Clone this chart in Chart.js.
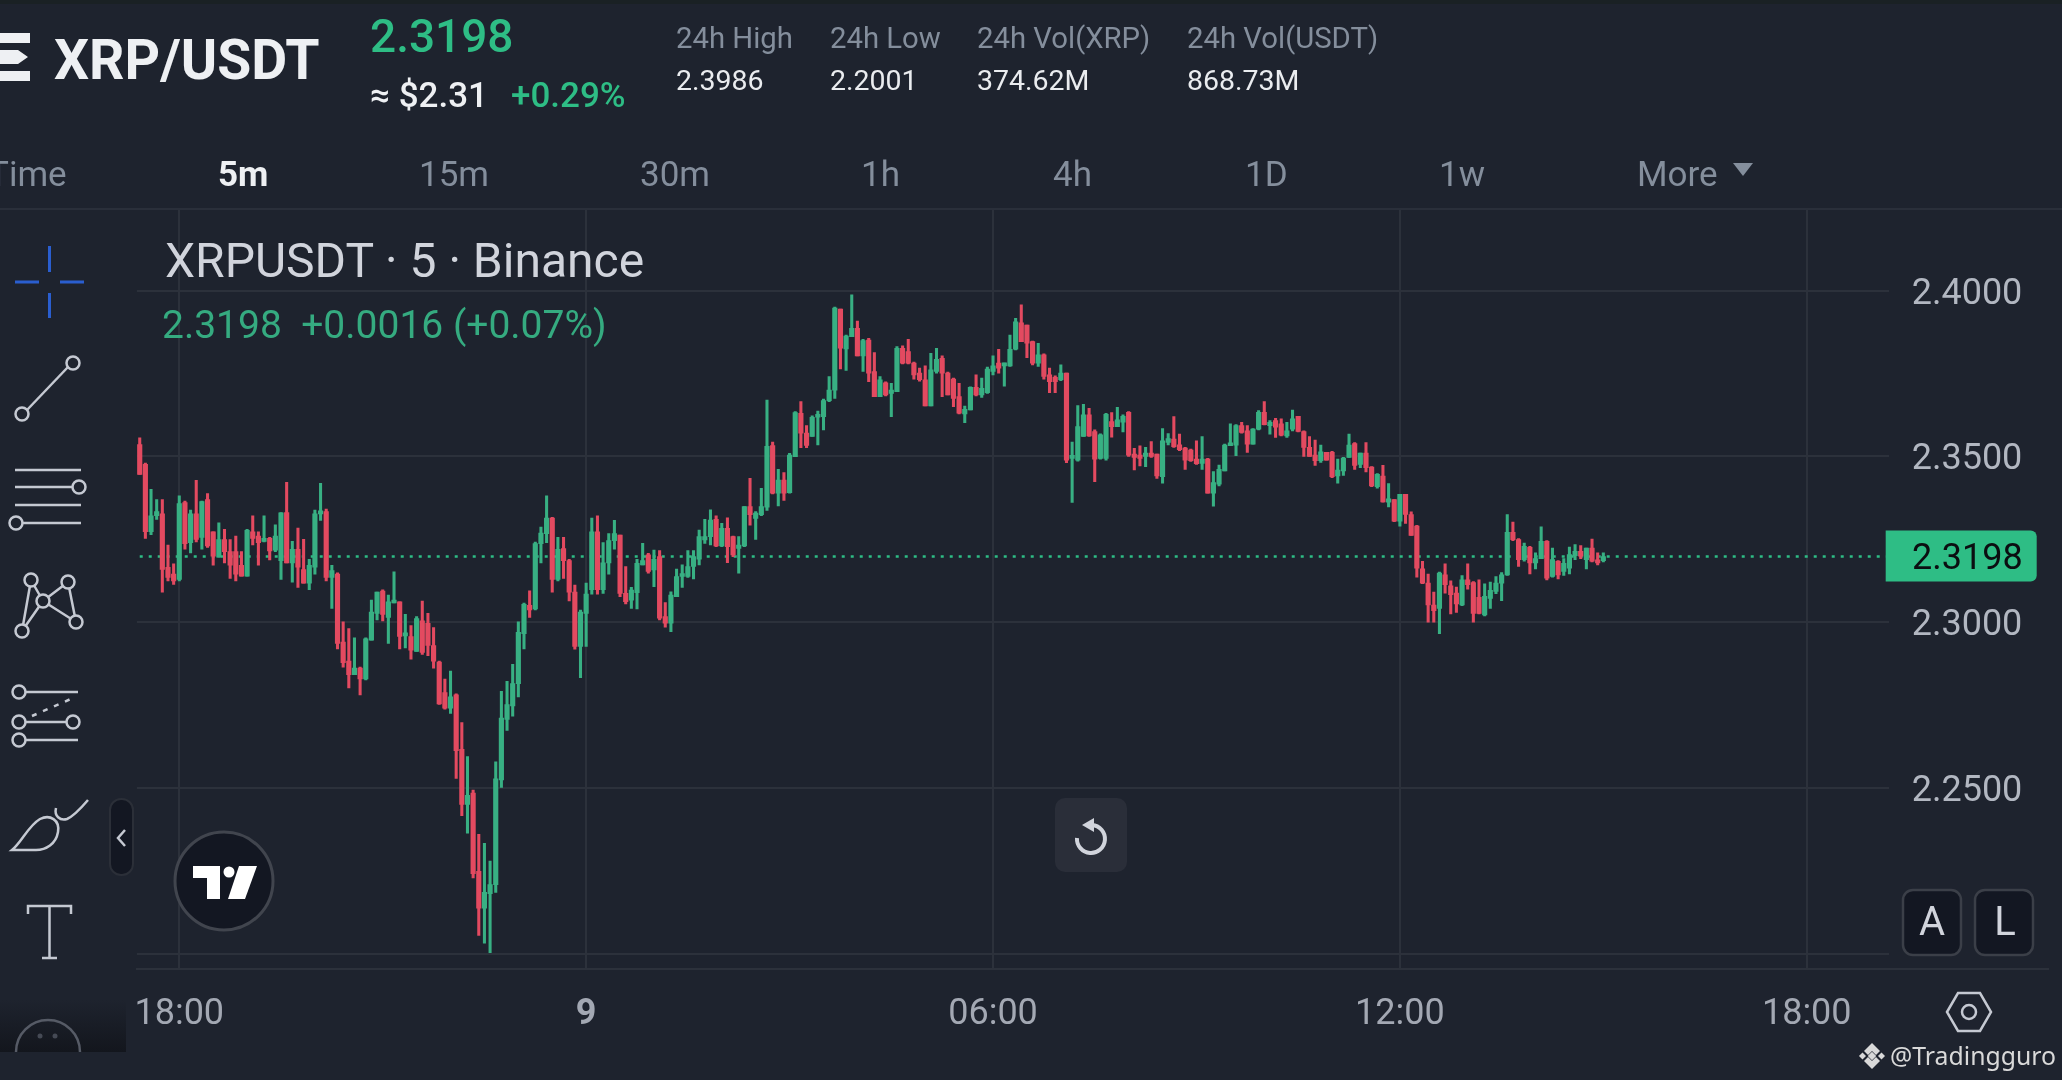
<!DOCTYPE html>
<html>
<head>
<meta charset="utf-8">
<script src="https://cdn.jsdelivr.net/npm/chart.js@4/dist/chart.umd.min.js"></script>
<style>
html, body { margin: 0; padding: 0; background: #1e232e; }
#page { position: relative; width: 2062px; height: 1080px; overflow: hidden; background: #1e232e; font-family: Roboto, sans-serif; }
#chart { position: absolute; left: 0; top: 0; }
#icons { position: absolute; left: 0; top: 0; }
.t { position: absolute; white-space: nowrap; line-height: 1; }
.dim { color: #848e9c; }
.val { color: #eaecef; }
.up { color: #2ebd85; }
</style>
</head>
<body>
<div id="page">
  <canvas id="chart" width="2062" height="1080"></canvas>

  <svg id="icons" width="2062" height="1080" fill="none" stroke="#c5c9d2" stroke-width="2.5">
    <defs>
      <linearGradient id="fade" x1="0" y1="0" x2="0" y2="1">
        <stop offset="0" stop-color="#1e232e"/>
        <stop offset="1" stop-color="#13161d"/>
      </linearGradient>
    </defs>
    <!-- top strip and rules -->
    <rect x="0" y="0" width="2062" height="4" fill="#1a2124" stroke="none"/>
    <line x1="0" y1="209" x2="2062" y2="209" stroke="#2a2f3a" stroke-width="2"/>
    <line x1="1890" y1="969" x2="2049" y2="969" stroke="#2c313b" stroke-width="2"/>

    <!-- exchange logo, cut by the left edge -->
    <path d="M0 33H30V43H0ZM0 71H30V81H0ZM0 50H18L28 57L18 64H0Z" fill="#eef0f3" stroke="none"/>

    <!-- crosshair -->
    <g stroke="#2a5ecf" stroke-width="3">
      <path d="M15 282H39M60 282H84M49.5 246V272M49.5 293V318"/>
    </g>
    <!-- trend line -->
    <circle cx="22" cy="414" r="6.5"/><circle cx="73" cy="363" r="6.5"/>
    <line x1="27" y1="410" x2="68" y2="367"/>
    <!-- parallel lines -->
    <path d="M15 470H81M15 487H73M15 505H81M23 523H81"/>
    <circle cx="79" cy="487" r="6.5"/><circle cx="16" cy="523" r="6.5"/>
    <!-- pattern -->
    <path d="M31 580L22 631M31 580L43 601M43 601L68 582M68 582L76 622M22 631L43 601M43 601L76 622"/>
    <g fill="#1e232e">
      <circle cx="31" cy="580" r="6.5"/><circle cx="68" cy="582" r="6.5"/><circle cx="43" cy="601" r="6.5"/>
      <circle cx="22" cy="631" r="6.5"/><circle cx="76" cy="622" r="6.5"/>
    </g>
    <!-- forecast -->
    <path d="M25 692H78M25 722H67M25 740H78"/>
    <path d="M32 716L73 698" stroke-dasharray="5 7"/>
    <circle cx="19" cy="692" r="6.5"/><circle cx="19" cy="722" r="6.5"/><circle cx="73" cy="722" r="6.5"/><circle cx="19" cy="740" r="6.5"/>
    <!-- brush -->
    <path d="M12 850C22 842 28 826 40 819C50 814 60 820 58 832C56 844 46 850 36 850Z"/>
    <path d="M56 808C54 816 60 821 67 819C74 816 82 807 88 800"/>
    <!-- text tool -->
    <path d="M28 914V906H71V914M49.5 906V958M42 958H57"/>
    <!-- more, faded into a dark panel -->
    <rect x="0" y="1000" width="126" height="52" fill="url(#fade)" stroke="none"/>
    <path d="M16 1052A32 32 0 0 1 80 1052" stroke="#565b66"/>
    <circle cx="40" cy="1036" r="2.5" fill="#454a55" stroke="none"/><circle cx="55" cy="1036" r="2.5" fill="#454a55" stroke="none"/>

    <!-- collapse pill -->
    <rect x="110" y="799" width="23" height="76" rx="11" fill="#131722" stroke="#2b2f38" stroke-width="2"/>
    <path d="M125 830L118 838L125 846" stroke="#c5c9d2"/>

    <!-- TradingView badge -->
    <circle cx="224" cy="881" r="49" fill="#131722" stroke="#41454e" stroke-width="3"/>
    <path d="M193 866H220V899H207V878H193Z" fill="#fff" stroke="none"/>
    <circle cx="229" cy="872" r="5.5" fill="#fff" stroke="none"/>
    <path d="M239 866H257L245 899H228Z" fill="#fff" stroke="none"/>

    <!-- reset -->
    <rect x="1055" y="798" width="72" height="74" rx="10" fill="#2a2e39" stroke="none"/>
    <path d="M1092 825A14 14 0 1 1 1077 838" stroke="#d1d4dc" stroke-width="4"/>
    <path d="M1094 818V832L1082 825Z" fill="#d1d4dc" stroke="none"/>

    <!-- scale buttons -->
    <rect x="1903" y="890" width="58" height="65" rx="10" fill="#131722" stroke="#3b3f48"/>
    <rect x="1975" y="890" width="58" height="65" rx="10" fill="#131722" stroke="#3b3f48"/>

    <!-- settings hexagon -->
    <path d="M1947 1012L1958 993H1980L1991 1012L1980 1031H1958Z" stroke="#c5c9d2"/>
    <circle cx="1969" cy="1012" r="7"/>

    <!-- watermark logo -->
    <g fill="#d9d9d9" stroke="none">
      <path d="M1872 1043L1880 1051L1876 1055L1872 1051L1868 1055L1864 1051Z"/>
      <path d="M1872 1069L1864 1061L1868 1057L1872 1061L1876 1057L1880 1061Z"/>
      <rect x="1869" y="1053" width="6" height="6" transform="rotate(45 1872 1056)"/>
      <rect x="1860" y="1053.500" width="5" height="5" transform="rotate(45 1862.500 1056)"/>
      <rect x="1879" y="1053.500" width="5" height="5" transform="rotate(45 1881.500 1056)"/>
    </g>
  </svg>

  <div class="t" style="left:54px;top:33px;font-size:55.300px;font-weight:700;color:#eef0f3">XRP/USDT</div>
  <div class="t up" style="left:370px;top:13px;font-size:46px;font-weight:500">2.3198</div>
  <div class="t" style="left:370px;top:78px;font-size:35px;font-weight:500;color:#eef0f3">≈ $2.31</div>
  <div class="t up" style="left:511px;top:78px;font-size:35px;font-weight:500">+0.29%</div>

  <div class="t dim" style="left:676px;top:24px;font-size:29.300px">24h High</div>
  <div class="t val" style="left:676px;top:67px;font-size:28.500px">2.3986</div>
  <div class="t dim" style="left:830px;top:24px;font-size:29.300px">24h Low</div>
  <div class="t val" style="left:830px;top:67px;font-size:28.500px">2.2001</div>
  <div class="t dim" style="left:977px;top:24px;font-size:29.300px">24h Vol(XRP)</div>
  <div class="t val" style="left:977px;top:67px;font-size:28.500px">374.62M</div>
  <div class="t dim" style="left:1187px;top:24px;font-size:29.300px">24h Vol(USDT)</div>
  <div class="t val" style="left:1187px;top:67px;font-size:28.500px">868.73M</div>

  <div class="t dim" style="left:-12px;top:157px;font-size:35px">Time</div>
  <div class="t" style="left:218px;top:157px;font-size:35px;font-weight:700;color:#eef0f3">5m</div>
  <div class="t dim" style="left:419px;top:157px;font-size:35px">15m</div>
  <div class="t dim" style="left:640px;top:157px;font-size:35px">30m</div>
  <div class="t dim" style="left:861px;top:157px;font-size:35px">1h</div>
  <div class="t dim" style="left:1053px;top:157px;font-size:35px">4h</div>
  <div class="t dim" style="left:1245px;top:157px;font-size:35px">1D</div>
  <div class="t dim" style="left:1439px;top:157px;font-size:35px">1w</div>
  <div class="t dim" style="left:1637px;top:157px;font-size:35px">More</div>
  <svg style="position:absolute;left:1733px;top:163px" width="20" height="14"><path d="M0 0H20L10 13Z" fill="#848e9c"/></svg>

  <div class="t" style="left:165px;top:237px;font-size:48px;color:#d1d4dc">XRPUSDT · 5 · Binance</div>
  <div class="t" style="left:162px;top:306px;font-size:39px;color:#35ab80;white-space:pre">2.3198  +0.0016 (+0.07%)</div>

  <div class="t" style="left:1909px;top:902px;font-size:40px;color:#d1d4dc;width:46px;text-align:center">A</div>
  <div class="t" style="left:1982px;top:902px;font-size:40px;color:#d1d4dc;width:46px;text-align:center">L</div>
  <div class="t" style="left:1890px;top:1043px;font-size:24.800px;font-family:'Noto Sans',sans-serif;color:#d9d9d9">@Tradingguro</div>
</div>

<script>
// 5 minute candles
const opens = [
  2.3536,2.3476,2.3273,2.3321,2.3327,2.3166,2.3145,2.3129,2.3361,2.3240,
  2.3327,2.3256,2.3370,2.3273,2.3196,2.3249,2.3213,2.3213,2.3172,2.3139,
  2.3273,2.3260,2.3244,2.3253,2.3217,2.3186,2.3331,2.3179,2.3220,2.3159,
  2.3118,2.3166,2.3327,2.3334,2.3135,2.3145,2.2940,2.2883,2.2842,2.2862,
  2.2829,2.2946,2.3027,2.3094,2.3015,2.3058,2.3062,2.2959,2.2957,2.2912,
  2.3004,2.2997,2.2930,2.2880,2.2788,2.2741,2.2781,2.2617,2.2451,2.2485,
  2.2249,2.2138,2.2182,2.2209,2.2525,2.2707,2.2748,2.2815,2.2966,2.3051,
  2.3040,2.3237,2.3267,2.3314,2.3129,2.3222,2.3186,2.3091,2.2927,2.3027,
  2.3098,2.3273,2.3098,2.3179,2.3246,2.3263,2.3087,2.3067,2.3089,2.3173,
  2.3203,2.3158,2.3198,2.3017,2.2997,2.3077,2.3138,2.3138,2.3168,2.3190,
  2.3248,2.3258,2.3310,2.3230,2.3283,2.3258,2.3223,2.3230,2.3349,2.3313,
  2.3324,2.3347,2.3533,2.3389,2.3429,2.3391,2.3499,2.3630,2.3570,2.3560,
  2.3618,2.3620,2.3668,2.3700,2.3944,2.3824,2.3861,2.3886,2.3803,2.3851,
  2.3756,2.3680,2.3722,2.3690,2.3695,2.3826,2.3816,2.3781,2.3751,2.3731,
  2.3652,2.3756,2.3796,2.3751,2.3733,2.3680,2.3628,2.3640,2.3708,2.3685,
  2.3692,2.3756,2.3781,2.3773,2.3773,2.3823,2.3903,2.3896,2.3846,2.3781,
  2.3806,2.3746,2.3738,2.3731,2.3751,2.3494,2.3489,2.3560,2.3625,2.3575,
  2.3494,2.3494,2.3605,2.3590,2.3603,2.3633,2.3507,2.3504,2.3500,2.3510,
  2.3507,2.3439,2.3542,2.3552,2.3535,2.3525,2.3519,2.3492,2.3479,2.3492,
  2.3389,2.3416,2.3456,2.3532,2.3534,2.3593,2.3577,2.3537,2.3582,2.3633,
  2.3593,2.3608,2.3598,2.3562,2.3582,2.3621,2.3575,2.3527,2.3504,2.3487,
  2.3512,2.3512,2.3441,2.3456,2.3497,2.3539,2.3476,2.3510,2.3468,2.3409,
  2.3441,2.3362,2.3370,2.3305,2.3386,2.3325,2.3290,2.3161,2.3118,2.3052,
  2.3042,2.3143,2.3110,2.3088,2.3052,2.3128,2.3120,2.3075,2.3022,2.3072,
  2.3093,2.3118,2.3143,2.3271,2.3249,2.3189,2.3226,2.3179,2.3192,2.3244,
  2.3138,2.3184,2.3153,2.3163,2.3201,2.3214,2.3189,2.3224,2.3186,2.3186
];
const closes = [
  2.3446,2.3273,2.3321,2.3334,2.3159,2.3135,2.3125,2.3358,2.3237,2.3327,
  2.3250,2.3364,2.3230,2.3199,2.3249,2.3213,2.3172,2.3145,2.3139,2.3277,
  2.3253,2.3240,2.3253,2.3215,2.3260,2.3330,2.3179,2.3220,2.3166,2.3118,
  2.3172,2.3327,2.3334,2.3135,2.3156,2.2936,2.2878,2.2842,2.2862,2.2829,
  2.2950,2.3031,2.3091,2.3024,2.3062,2.3067,2.2957,2.2966,2.2916,2.3011,
  2.2909,2.2930,2.2883,2.2754,2.2741,2.2775,2.2613,2.2451,2.2478,2.2242,
  2.2138,2.2186,2.2209,2.2528,2.2711,2.2752,2.2815,2.2970,2.3054,2.3037,
  2.3237,2.3269,2.3314,2.3129,2.3220,2.3186,2.3091,2.2927,2.3031,2.3085,
  2.3273,2.3098,2.3179,2.3246,2.3267,2.3087,2.3062,2.3097,2.3178,2.3186,
  2.3153,2.3190,2.3012,2.2997,2.3082,2.3138,2.3143,2.3168,2.3198,2.3258,
  2.3258,2.3308,2.3230,2.3283,2.3228,2.3203,2.3233,2.3349,2.3324,2.3329,
  2.3349,2.3530,2.3389,2.3429,2.3389,2.3504,2.3632,2.3570,2.3533,2.3618,
  2.3622,2.3668,2.3700,2.3947,2.3826,2.3863,2.3886,2.3803,2.3849,2.3751,
  2.3680,2.3731,2.3685,2.3700,2.3826,2.3781,2.3781,2.3746,2.3731,2.3652,
  2.3761,2.3793,2.3751,2.3685,2.3675,2.3630,2.3642,2.3708,2.3685,2.3705,
  2.3763,2.3773,2.3766,2.3779,2.3823,2.3906,2.3846,2.3841,2.3781,2.3806,
  2.3741,2.3725,2.3725,2.3751,2.3489,2.3499,2.3590,2.3625,2.3562,2.3492,
  2.3565,2.3627,2.3590,2.3610,2.3621,2.3504,2.3497,2.3494,2.3510,2.3500,
  2.3441,2.3547,2.3554,2.3529,2.3520,2.3489,2.3487,2.3478,2.3492,2.3389,
  2.3421,2.3461,2.3534,2.3537,2.3593,2.3572,2.3537,2.3582,2.3633,2.3596,
  2.3603,2.3588,2.3564,2.3577,2.3613,2.3575,2.3527,2.3500,2.3487,2.3514,
  2.3489,2.3439,2.3459,2.3495,2.3534,2.3473,2.3510,2.3466,2.3411,2.3446,
  2.3363,2.3372,2.3305,2.3386,2.3325,2.3262,2.3163,2.3118,2.3052,2.3035,
  2.3148,2.3113,2.3083,2.3055,2.3128,2.3113,2.3027,2.3027,2.3078,2.3096,
  2.3118,2.3143,2.3271,2.3249,2.3189,2.3229,2.3179,2.3192,2.3244,2.3133,
  2.3189,2.3143,2.3178,2.3204,2.3214,2.3199,2.3224,2.3184,2.3179,2.3198
];
const highs = [
  2.3556,2.3480,2.3401,2.3370,2.3370,2.3233,2.3176,2.3381,2.3365,2.3338,
  2.3428,2.3365,2.3388,2.3273,2.3300,2.3280,2.3249,2.3260,2.3213,2.3280,
  2.3321,2.3273,2.3321,2.3256,2.3294,2.3331,2.3422,2.3244,2.3284,2.3250,
  2.3190,2.3338,2.3419,2.3341,2.3172,2.3149,2.3001,2.2981,2.2953,2.2865,
  2.2953,2.3067,2.3091,2.3098,2.3082,2.3152,2.3062,2.3024,2.2990,2.3017,
  2.3064,2.3027,2.2984,2.2883,2.2829,2.2853,2.2784,2.2698,2.2595,2.2494,
  2.2361,2.2334,2.2280,2.2579,2.2792,2.2822,2.2873,2.3001,2.3058,2.3095,
  2.3242,2.3287,2.3381,2.3316,2.3256,2.3256,2.3190,2.3112,2.3037,2.3118,
  2.3314,2.3321,2.3240,2.3267,2.3307,2.3263,2.3168,2.3105,2.3190,2.3238,
  2.3208,2.3218,2.3216,2.3059,2.3092,2.3160,2.3173,2.3216,2.3216,2.3278,
  2.3310,2.3339,2.3321,2.3298,2.3315,2.3260,2.3258,2.3349,2.3434,2.3334,
  2.3404,2.3670,2.3543,2.3461,2.3451,2.3509,2.3635,2.3665,2.3593,2.3622,
  2.3637,2.3673,2.3741,2.3950,2.3944,2.3866,2.3987,2.3908,2.3853,2.3856,
  2.3813,2.3741,2.3725,2.3720,2.3831,2.3833,2.3853,2.3784,2.3766,2.3773,
  2.3811,2.3826,2.3803,2.3754,2.3736,2.3720,2.3652,2.3710,2.3746,2.3736,
  2.3769,2.3803,2.3823,2.3781,2.3866,2.3916,2.3957,2.3896,2.3848,2.3841,
  2.3809,2.3766,2.3743,2.3776,2.3751,2.3543,2.3653,2.3657,2.3645,2.3580,
  2.3568,2.3630,2.3632,2.3648,2.3625,2.3635,2.3524,2.3532,2.3527,2.3545,
  2.3507,2.3584,2.3569,2.3620,2.3567,2.3527,2.3522,2.3547,2.3560,2.3494,
  2.3454,2.3474,2.3537,2.3598,2.3596,2.3603,2.3593,2.3584,2.3638,2.3665,
  2.3608,2.3615,2.3613,2.3603,2.3640,2.3621,2.3577,2.3560,2.3549,2.3534,
  2.3512,2.3515,2.3492,2.3497,2.3567,2.3542,2.3510,2.3542,2.3469,2.3448,
  2.3473,2.3418,2.3370,2.3386,2.3386,2.3333,2.3292,2.3184,2.3145,2.3091,
  2.3151,2.3176,2.3125,2.3106,2.3141,2.3176,2.3123,2.3128,2.3116,2.3121,
  2.3138,2.3150,2.3325,2.3302,2.3252,2.3239,2.3229,2.3209,2.3288,2.3246,
  2.3224,2.3186,2.3192,2.3227,2.3234,2.3231,2.3224,2.3251,2.3209,2.3209
];
const lows = [
  2.3446,2.3253,2.3264,2.3310,2.3091,2.3125,2.3114,2.3125,2.3220,2.3209,
  2.3242,2.3220,2.3226,2.3172,2.3196,2.3179,2.3132,2.3125,2.3139,2.3139,
  2.3233,2.3172,2.3242,2.3188,2.3213,2.3129,2.3179,2.3121,2.3105,2.3118,
  2.3098,2.3145,2.3307,2.3125,2.3042,2.2920,2.2865,2.2802,2.2842,2.2781,
  2.2826,2.2946,2.3007,2.3004,2.2936,2.3058,2.2920,2.2923,2.2889,2.2912,
  2.2903,2.2899,2.2862,2.2752,2.2738,2.2725,2.2529,2.2417,2.2364,2.2229,
  2.2056,2.2033,2.2004,2.2186,2.2502,2.2674,2.2717,2.2775,2.2920,2.3015,
  2.3037,2.3179,2.3240,2.3091,2.3125,2.3132,2.3064,2.2919,2.2833,2.2927,
  2.3085,2.3085,2.3087,2.3145,2.3220,2.3077,2.3055,2.3042,2.3040,2.3173,
  2.3148,2.3107,2.3007,2.2985,2.2972,2.3077,2.3105,2.3135,2.3131,2.3173,
  2.3238,2.3233,2.3228,2.3228,2.3180,2.3198,2.3148,2.3228,2.3293,2.3250,
  2.3321,2.3337,2.3387,2.3351,2.3367,2.3389,2.3499,2.3526,2.3526,2.3560,
  2.3535,2.3580,2.3665,2.3675,2.3764,2.3759,2.3861,2.3803,2.3756,2.3725,
  2.3680,2.3680,2.3682,2.3620,2.3695,2.3779,2.3779,2.3733,2.3727,2.3652,
  2.3652,2.3751,2.3680,2.3685,2.3650,2.3628,2.3602,2.3640,2.3682,2.3678,
  2.3690,2.3746,2.3751,2.3712,2.3771,2.3821,2.3846,2.3798,2.3776,2.3771,
  2.3733,2.3692,2.3692,2.3728,2.3481,2.3361,2.3486,2.3560,2.3560,2.3424,
  2.3492,2.3489,2.3558,2.3590,2.3574,2.3500,2.3459,2.3471,2.3469,2.3497,
  2.3434,2.3419,2.3535,2.3527,2.3517,2.3461,2.3485,2.3476,2.3461,2.3389,
  2.3350,2.3411,2.3456,2.3532,2.3502,2.3570,2.3512,2.3537,2.3580,2.3595,
  2.3567,2.3557,2.3562,2.3557,2.3577,2.3574,2.3500,2.3500,2.3473,2.3482,
  2.3489,2.3436,2.3419,2.3443,2.3497,2.3461,2.3466,2.3453,2.3409,2.3404,
  2.3362,2.3348,2.3303,2.3290,2.3298,2.3262,2.3136,2.3116,2.3000,2.3000,
  2.2966,2.3088,2.3025,2.3030,2.3050,2.3100,2.3000,2.3025,2.3019,2.3042,
  2.3086,2.3065,2.3141,2.3246,2.3168,2.3184,2.3146,2.3161,2.3192,2.3128,
  2.3136,2.3131,2.3141,2.3146,2.3189,2.3192,2.3161,2.3182,2.3173,2.3182
];

const lastPrice = 2.3198;
const priceTicks = [2.2, 2.25, 2.3, 2.35, 2.4];
const priceTickLabels = ["", "2.2500", "2.3000", "2.3500", "2.4000"];
const timeTickSlots = [7, 79, 151, 223, 295];
const timeTickLabels = ["18:00", "9", "06:00", "12:00", "18:00"];

const UP = "#38b083";
const DOWN = "#e34a60";
const GRID = "#2c313b";
const SLOTS = 310; // candles plus the empty space right of the last one

const categories = [];
for (let i = 0; i < SLOTS; i++) categories.push(i);

const candleColors = opens.map((o, i) => (closes[i] >= o ? UP : DOWN));
const wicks = lows.map((l, i) => [l, highs[i]]);
const bodies = opens.map((o, i) => [o, closes[i]]);

// green label on the price axis at the last price
const priceTag = {
    id: "priceTag",
    afterDatasetsDraw(chart) {
        const c = chart.ctx;
        const y = chart.scales.y.getPixelForValue(lastPrice);
        c.save();
        c.fillStyle = "#2ebd85";
        c.beginPath();
        c.roundRect(1885.7, y - 26, 151, 51, [0, 6, 6, 0]);
        c.fill();
        c.fillStyle = "#0b0e11";
        c.font = "36px Roboto";
        c.textAlign = "left";
        c.textBaseline = "middle";
        c.fillText(lastPrice.toFixed(4), 1912, y + 3);
        c.restore();
    }
};

new Chart(document.getElementById("chart"), {
    type: "bar",
    data: {
        labels: categories,
        datasets: [
            {
                type: "line",
                data: categories.map(() => lastPrice),
                borderColor: "#2ebd85",
                borderWidth: 2.5,
                borderDash: [3, 6],
                pointRadius: 0,
                order: 3
            },
            {
                data: wicks,
                backgroundColor: candleColors,
                barThickness: 2.4,
                grouped: false,
                order: 2
            },
            {
                data: bodies,
                backgroundColor: candleColors,
                barThickness: 4.5,
                minBarLength: 3,
                grouped: false,
                order: 1
            }
        ]
    },
    options: {
        responsive: false,
        animation: false,
        devicePixelRatio: 1,
        layout: { padding: { left: 136.9, top: 209, right: 0, bottom: 0 } },
        plugins: { legend: { display: false }, tooltip: { enabled: false } },
        scales: {
            x: {
                offset: true,
                afterBuildTicks(scale) {
                    scale.ticks = timeTickSlots.map(v => ({ value: v }));
                },
                afterFit(scale) { scale.height = 111; },
                grid: { color: GRID, lineWidth: 2, offset: false, drawTicks: false },
                border: { display: true, color: GRID, width: 2 },
                ticks: {
                    autoSkip: false,
                    maxRotation: 0,
                    padding: 24,
                    color: "#a3a8b3",
                    font: c => ({ family: "Roboto", size: 36, weight: timeTickLabels[c.index] === "9" ? "bold" : "normal" }),
                    callback: (v, i) => timeTickLabels[i]
                }
            },
            y: {
                position: "right",
                min: 2.19548,
                max: 2.42458,
                afterBuildTicks(scale) {
                    scale.ticks = priceTicks.map(v => ({ value: v }));
                },
                afterFit(scale) { scale.width = 173.3; },
                grid: { color: GRID, lineWidth: 2, drawTicks: false },
                border: { display: false },
                ticks: {
                    padding: 23,
                    labelOffset: 4,
                    color: "#b2b7c1",
                    font: { family: "Roboto", size: 36 },
                    callback: (v, i) => priceTickLabels[i]
                }
            }
        }
    },
    plugins: [priceTag]
});
</script>
</body>
</html>
